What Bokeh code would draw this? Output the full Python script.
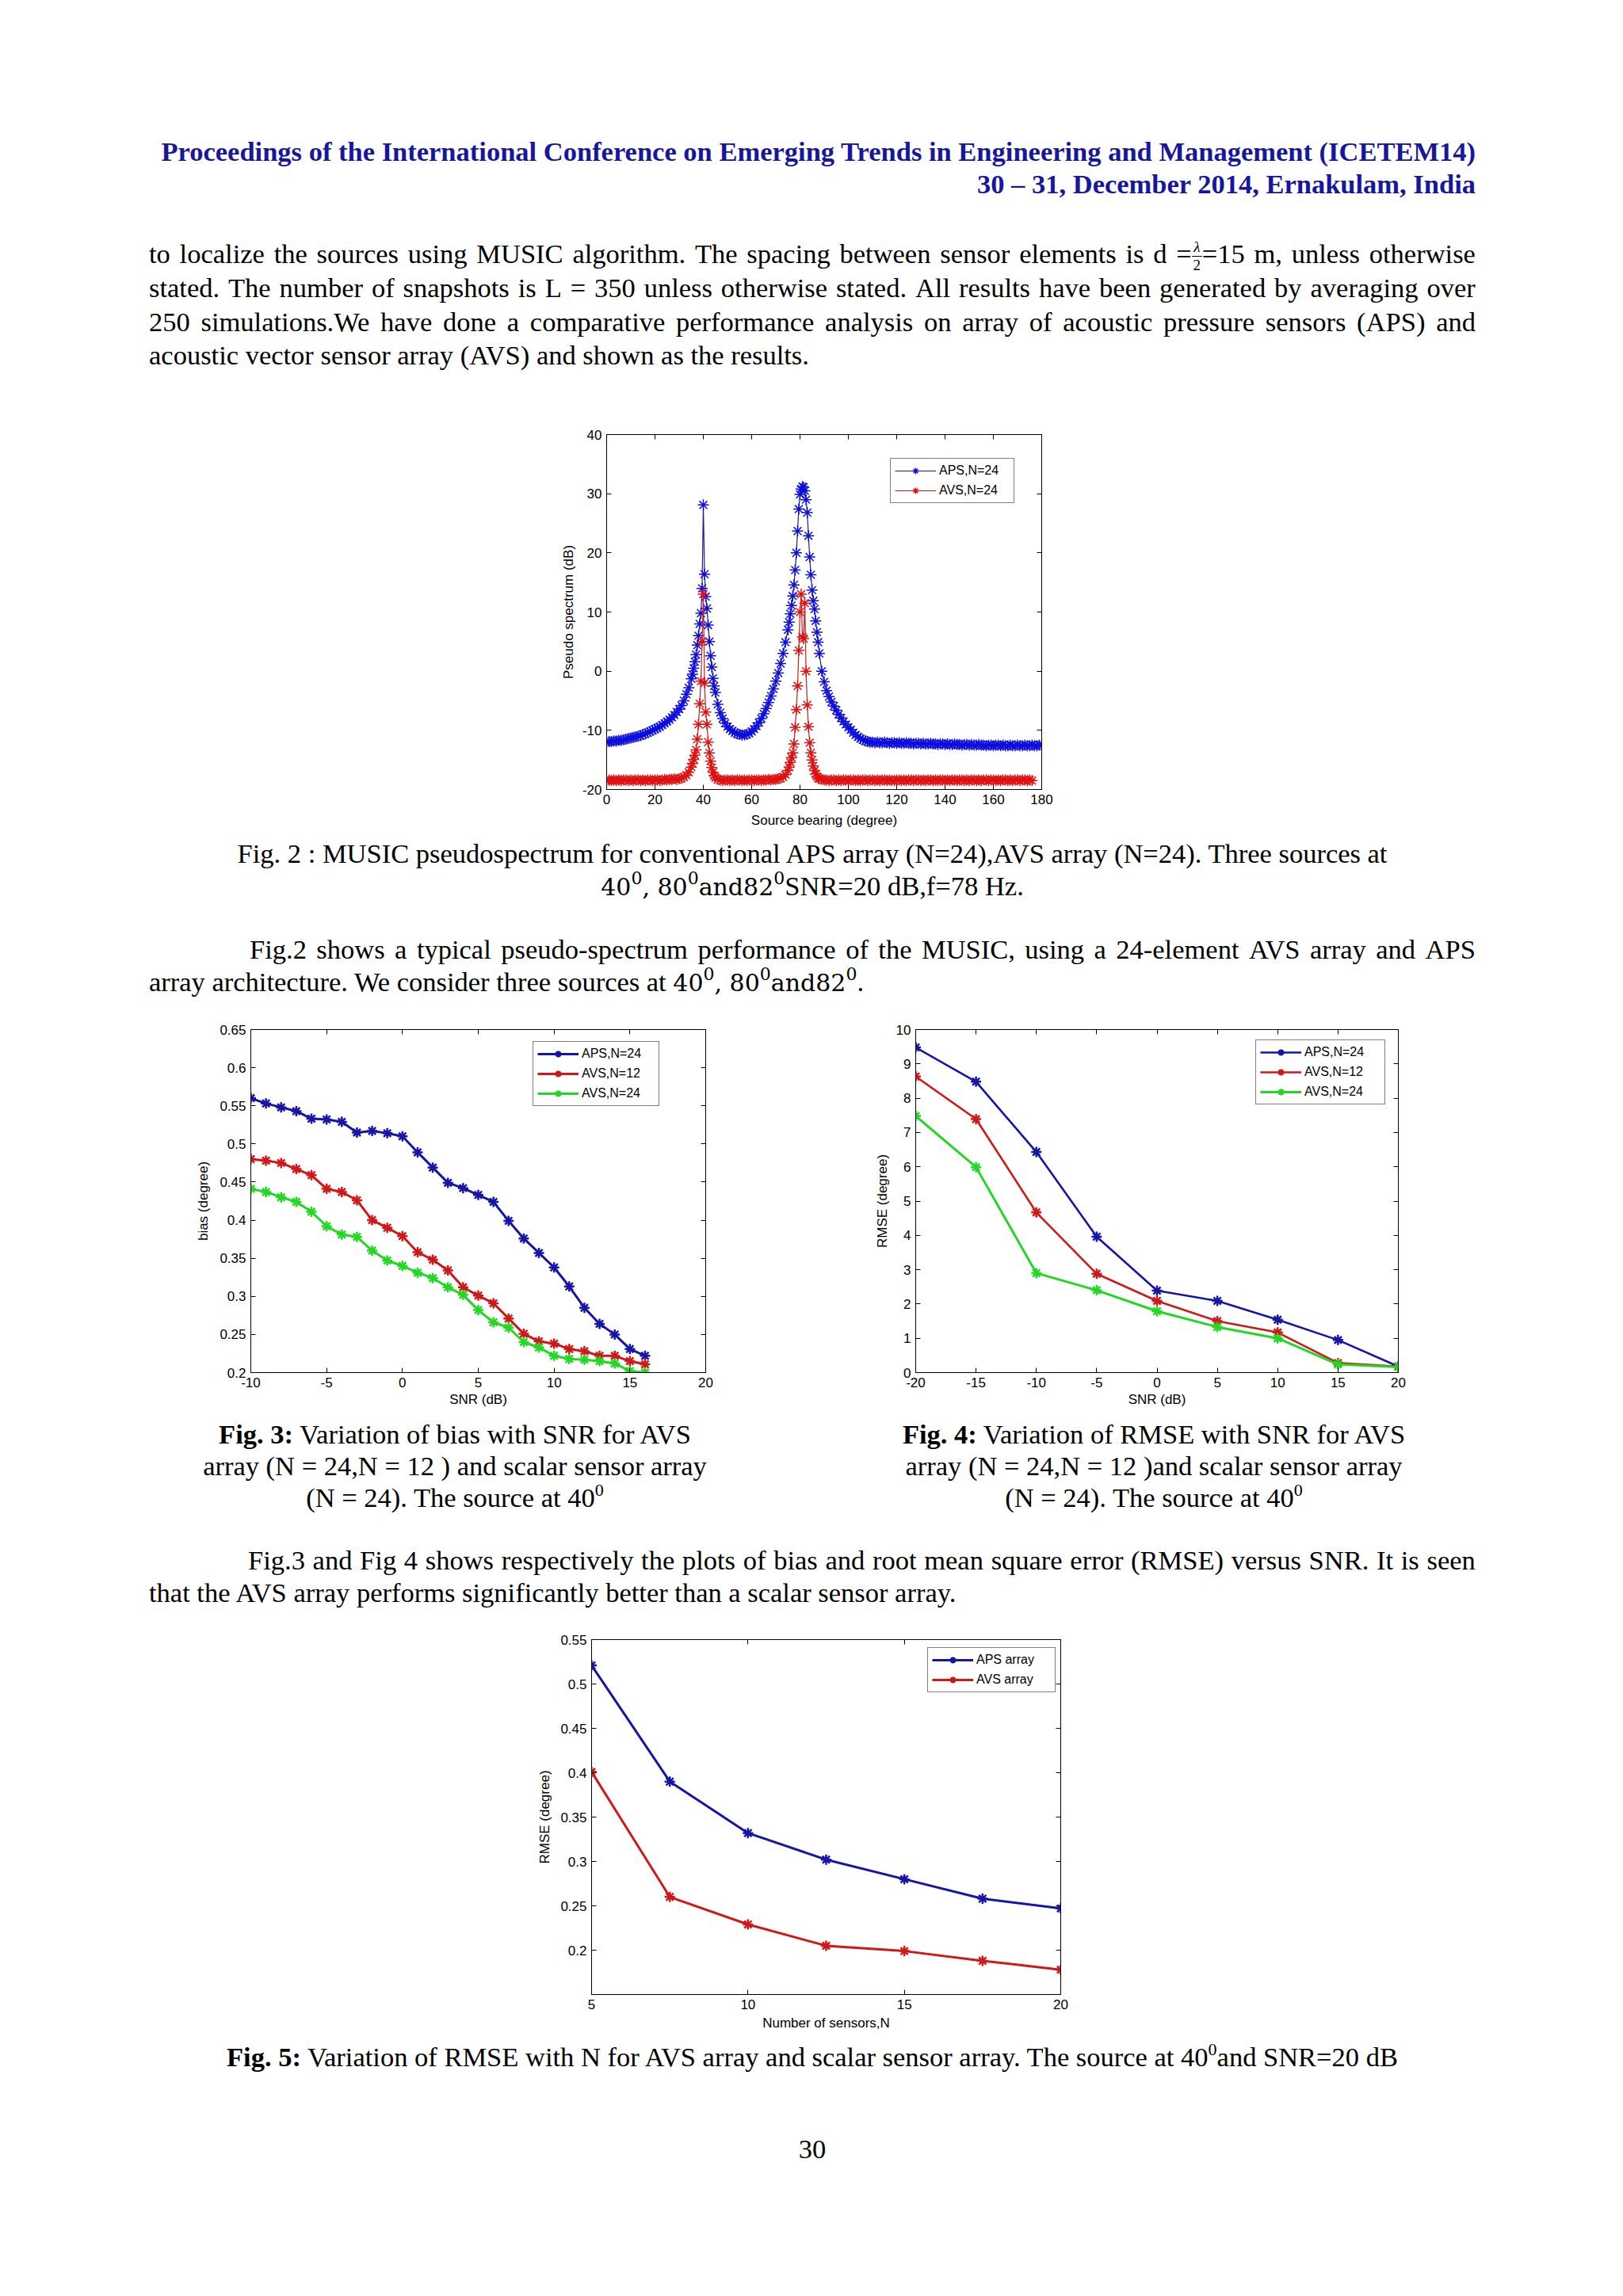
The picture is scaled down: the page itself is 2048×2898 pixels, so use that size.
from bokeh.plotting import figure
from bokeh.models import Div, Spacer, LinearAxis, FixedTicker, Legend, LegendItem, Range1d
from bokeh.layouts import column, row
from bokeh.embed import file_html
from bokeh.resources import INLINE

# ------------------------------------------------------------------ data
# Fig. 2 : MUSIC pseudo-spectrum
fig2_bearing = [0, 1, 2, 3, 4, 5, 6, 7, 8, 9, 10, 11, 12, 13, 14, 15, 16, 17, 18, 19,
                20, 21, 22, 23, 24, 25, 26, 27, 28, 29, 30, 31, 32, 33, 34, 35,
                35.5, 36, 36.5, 37, 37.5, 38, 38.5, 39, 39.5, 40, 40.5, 41, 41.5, 42, 42.5,
                43, 43.5, 44, 44.5,
                45, 46, 47, 48, 49, 50, 51, 52, 53, 54, 55, 56, 57, 58, 59, 60, 61, 62, 63,
                64, 65, 66, 67, 68, 69, 70, 71, 72, 73, 74, 75,
                75.5, 76, 76.5, 77, 77.5, 78, 78.5, 79, 79.5, 80, 80.5, 81, 81.5, 82, 82.5,
                83, 83.5, 84, 84.5, 85, 85.5, 86, 86.5, 87, 87.5,
                88, 89, 90, 91, 92, 93, 94, 95, 96, 97, 98, 99, 100, 101, 102, 103, 104, 105,
                106, 107, 108, 109, 110, 111, 112, 113, 114, 115, 116, 117, 118, 119, 120,
                121, 122, 123, 124, 125, 126, 127, 128, 129, 130, 131, 132, 133, 134, 135,
                136, 137, 138, 139, 140, 141, 142, 143, 144, 145, 146, 147, 148, 149, 150,
                151, 152, 153, 154, 155, 156, 157, 158, 159, 160, 161, 162, 163, 164, 165,
                166, 167, 168, 169, 170, 171, 172, 173, 174, 175, 176, 177, 178, 179, 180]
fig2_aps_db = [-12.0, -11.9, -11.9, -11.8, -11.8, -11.7, -11.7, -11.6, -11.5, -11.4, -11.3, -11.2,
               -11.1, -11.0, -10.9, -10.7, -10.6, -10.4, -10.2, -10.0, -9.8, -9.6, -9.4, -9.1,
               -8.8, -8.5, -8.2, -7.8, -7.4, -6.9, -6.4, -5.8, -5.0, -3.9, -2.8, -1.3,
               -0.5, 0.5, 1.6, 2.8, 4.4, 6.0, 8.0, 9.8, 14.0, 28.1, 16.4, 12.6, 10.6, 7.8, 5.0,
               2.6, 0.7, -1.2, -2.5,
               -3.6, -5.6, -7.0, -8.0, -8.8, -9.4, -9.8, -10.1, -10.4, -10.6, -10.7, -10.8, -10.8,
               -10.7, -10.5, -10.2, -9.8, -9.3, -8.7, -8.0, -7.2, -6.3, -5.3, -4.2, -3.0, -1.7,
               -0.3, 1.3, 3.0, 4.9, 7.0,
               8.3, 9.7, 11.1, 12.7, 14.6, 17.1, 20.0, 23.7, 27.4, 29.9, 30.8, 31.2, 31.1, 30.5,
               29.0, 26.8, 22.9, 19.3, 16.3, 13.7, 11.9, 10.5, 8.5, 6.6, 4.9,
               3.0, 0.0, -1.8, -3.3, -4.3, -5.2, -5.9, -6.6, -7.3, -7.9, -8.5, -9.0, -9.5, -9.9,
               -10.4, -10.8, -11.1, -11.4, -11.6, -11.8, -11.9, -12.0, -12.0, -12.1, -12.0, -12.1,
               -12.1, -12.0, -12.1, -12.2, -12.1, -12.1, -12.2, -12.1, -12.2, -12.2, -12.1, -12.2,
               -12.2, -12.3, -12.2, -12.2, -12.3, -12.2, -12.3, -12.3, -12.2, -12.3, -12.3, -12.4,
               -12.3, -12.3, -12.4, -12.3, -12.4, -12.4, -12.3, -12.4, -12.4, -12.5, -12.4, -12.4,
               -12.5, -12.4, -12.5, -12.5, -12.4, -12.5, -12.5, -12.6, -12.5, -12.5, -12.6, -12.5,
               -12.5, -12.6, -12.5, -12.6, -12.6, -12.5, -12.6, -12.6, -12.5, -12.6, -12.6, -12.5,
               -12.6, -12.6, -12.5, -12.6, -12.6, -12.5, -12.5]
fig2_avs_db = [-18.5, -18.4, -18.5, -18.4, -18.5, -18.4, -18.5, -18.4, -18.4, -18.5, -18.4, -18.5,
               -18.4, -18.4, -18.5, -18.4, -18.5, -18.4, -18.4, -18.5, -18.4, -18.4, -18.5, -18.4,
               -18.3, -18.4, -18.3, -18.3, -18.2, -18.3, -18.2, -18.1, -17.9, -17.6, -17.1, -16.2,
               -15.6, -14.9, -14.2, -13.3, -11.5, -9.0, -5.5, -1.7, 5.0, 13.0, -2.0, -6.9, -9.0,
               -12.0, -13.8, -15.2, -16.3, -17.1, -17.7,
               -18.0, -18.3, -18.4, -18.5, -18.4, -18.4, -18.5, -18.4, -18.5, -18.4, -18.4, -18.5,
               -18.4, -18.5, -18.4, -18.4, -18.5, -18.4, -18.4, -18.5, -18.4, -18.4, -18.3, -18.4,
               -18.3, -18.3, -18.2, -18.1, -17.9, -17.5, -16.8,
               -16.2, -15.4, -14.6, -13.8, -12.3, -9.5, -6.5, -2.5, 3.5, 10.0, 13.0, 5.8, 5.5, 11.5,
               0.0, -5.7, -9.4, -12.1, -13.8, -15.0, -16.0, -16.8, -17.4, -17.8, -18.1,
               -18.2, -18.3, -18.4, -18.4, -18.5, -18.4, -18.4, -18.5, -18.4, -18.5, -18.4, -18.4,
               -18.5, -18.4, -18.4, -18.5, -18.4, -18.5, -18.4, -18.4, -18.5, -18.4, -18.4, -18.5,
               -18.4, -18.5, -18.4, -18.4, -18.5, -18.4, -18.5, -18.5, -18.4, -18.4, -18.5, -18.4,
               -18.5, -18.4, -18.4, -18.5, -18.4, -18.4, -18.5, -18.4, -18.5, -18.4, -18.4, -18.5,
               -18.4, -18.5, -18.4, -18.4, -18.5, -18.4, -18.5, -18.4, -18.4, -18.5, -18.4, -18.4,
               -18.5, -18.4, -18.5, -18.4, -18.4, -18.5, -18.4, -18.5, -18.4, -18.4, -18.5, -18.4,
               -18.4, -18.5, -18.4, -18.5, -18.4, -18.4, -18.5, -18.4, -18.5, -18.4, -18.4, -18.5,
               -18.4, -18.4, -18.5, -18.4, -18.5]
fig2_xticks = [0, 20, 40, 60, 80, 100, 120, 140, 160, 180]
fig2_xlabels = ["0", "20", "40", "60", "80", "100", "120", "140", "160", "180"]
fig2_yticks = [-20, -10, 0, 10, 20, 30, 40]
fig2_ylabels = ["-20", "-10", "0", "10", "20", "30", "40"]

# Fig. 3 : bias vs SNR
fig3_snr = [-10, -9, -8, -7, -6, -5, -4, -3, -2, -1, 0, 1, 2, 3, 4, 5, 6, 7, 8, 9, 10,
            11, 12, 13, 14, 15, 16]
fig3_aps_n24 = [0.560, 0.553, 0.548, 0.543, 0.533, 0.532, 0.529, 0.515, 0.517, 0.514, 0.510,
                0.489, 0.469, 0.449, 0.442, 0.433, 0.424, 0.399, 0.376, 0.357, 0.338, 0.313,
                0.285, 0.264, 0.250, 0.231, 0.222]
fig3_avs_n12 = [0.480, 0.478, 0.475, 0.467, 0.459, 0.441, 0.437, 0.426, 0.400, 0.390, 0.379,
                0.358, 0.348, 0.334, 0.312, 0.301, 0.291, 0.271, 0.251, 0.241, 0.238, 0.231,
                0.228, 0.222, 0.222, 0.215, 0.211]
fig3_avs_n24 = [0.441, 0.437, 0.430, 0.424, 0.411, 0.392, 0.381, 0.378, 0.360, 0.347, 0.340,
                0.331, 0.324, 0.312, 0.302, 0.282, 0.266, 0.259, 0.240, 0.233, 0.222, 0.218,
                0.217, 0.215, 0.212, 0.202, 0.200]
fig3_xticks = [-10, -5, 0, 5, 10, 15, 20]
fig3_xlabels = ["-10", "-5", "0", "5", "10", "15", "20"]
fig3_yticks = [0.2, 0.25, 0.3, 0.35, 0.4, 0.45, 0.5, 0.55, 0.6, 0.65]
fig3_ylabels = ["0.2", "0.25", "0.3", "0.35", "0.4", "0.45", "0.5", "0.55", "0.6", "0.65"]

# Fig. 4 : RMSE vs SNR
fig4_snr = [-20, -15, -10, -5, 0, 5, 10, 15, 20]
fig4_aps_n24 = [9.48, 8.48, 6.43, 3.96, 2.39, 2.09, 1.54, 0.95, 0.18]
fig4_avs_n12 = [8.63, 7.39, 4.67, 2.88, 2.09, 1.50, 1.17, 0.28, 0.18]
fig4_avs_n24 = [7.48, 5.99, 2.90, 2.40, 1.79, 1.33, 1.00, 0.24, 0.16]
fig4_xticks = [-20, -15, -10, -5, 0, 5, 10, 15, 20]
fig4_xlabels = ["-20", "-15", "-10", "-5", "0", "5", "10", "15", "20"]
fig4_yticks = [0, 1, 2, 3, 4, 5, 6, 7, 8, 9, 10]
fig4_ylabels = ["0", "1", "2", "3", "4", "5", "6", "7", "8", "9", "10"]

# Fig. 5 : RMSE vs number of sensors
fig5_sensors = [5, 7.5, 10, 12.5, 15, 17.5, 20]
fig5_aps = [0.521, 0.390, 0.332, 0.302, 0.280, 0.258, 0.247]
fig5_avs = [0.401, 0.260, 0.229, 0.205, 0.199, 0.188, 0.178]
fig5_xticks = [5, 10, 15, 20]
fig5_xlabels = ["5", "10", "15", "20"]
fig5_yticks = [0.2, 0.25, 0.3, 0.35, 0.4, 0.45, 0.5, 0.55]
fig5_ylabels = ["0.2", "0.25", "0.3", "0.35", "0.4", "0.45", "0.5", "0.55"]

# ------------------------------------------------------------------ styles
SANS = "Liberation Sans"
SERIF = "'Liberation Serif', 'Times New Roman', serif"
FS = 34.5
TICK_FS = "17px"
BLUE_L, BLUE_M = "#1a1a9c", "#0d0de0"
RED_L, RED_M = "#c81e1e", "#e01010"
BLUE3, RED3, GREEN3 = "#1515a8", "#d01818", "#22d822"


def style_axis(ax, labels=True, stand=6):
    ax.axis_line_color = "black"
    ax.axis_line_width = 1
    ax.major_tick_in = 6
    ax.major_tick_out = 0
    ax.major_tick_line_color = "black"
    ax.minor_tick_line_color = None
    ax.major_label_text_font = SANS
    ax.axis_label_text_font = SANS
    ax.axis_label_text_font_size = "17px"
    ax.axis_label_text_font_style = "normal"
    ax.axis_label_text_color = "black"
    if labels:
        ax.major_label_text_color = "black"
        ax.major_label_text_font_size = TICK_FS
        ax.major_label_standoff = stand
    else:
        ax.major_label_text_color = None
        ax.major_label_text_alpha = 0
        ax.major_label_text_font_size = "1px"
        ax.major_label_standoff = 0


def make_chart(fw, fh, bl, br, bt, bb, xr, yr, xt, xl, yt, yl, xlab, ylab, xls, yls):
    p = figure(width=bl + fw + br, height=bt + fh + bb,
               x_range=Range1d(*xr), y_range=Range1d(*yr),
               output_backend="svg", toolbar_location=None,
               min_border_left=bl, min_border_right=br,
               min_border_top=bt, min_border_bottom=bb)
    p.background_fill_color = "white"
    p.border_fill_color = "white"
    p.outline_line_color = "black"
    p.outline_line_width = 1
    p.xgrid.visible = False
    p.ygrid.visible = False
    p.xaxis.ticker = FixedTicker(ticks=xt)
    p.yaxis.ticker = FixedTicker(ticks=yt)
    p.xaxis.major_label_overrides = dict(zip(xt, xl))
    p.yaxis.major_label_overrides = dict(zip(yt, yl))
    p.xaxis.axis_label = xlab
    p.yaxis.axis_label = ylab
    for ax in p.xaxis:
        style_axis(ax)
        ax.axis_label_standoff = xls
    for ax in p.yaxis:
        style_axis(ax)
        ax.axis_label_standoff = yls
    top = LinearAxis(ticker=FixedTicker(ticks=xt))
    style_axis(top, labels=False)
    right = LinearAxis(ticker=FixedTicker(ticks=yt))
    style_axis(right, labels=False)
    p.add_layout(top, "above")
    p.add_layout(right, "right")
    return p


def add_legend(p, items, loc, label_width):
    lg = Legend(items=[LegendItem(label=t, renderers=r) for t, r in items],
                location=loc, orientation="vertical")
    lg.border_line_color = "black"
    lg.border_line_width = 1
    lg.background_fill_color = "white"
    lg.background_fill_alpha = 1.0
    lg.label_text_font = SANS
    lg.label_text_font_size = "16px"
    lg.label_text_color = "black"
    lg.glyph_width = 52
    lg.glyph_height = 20
    lg.label_height = 20
    lg.label_width = label_width
    lg.label_standoff = 4
    lg.spacing = 5
    lg.padding = 5
    lg.margin = 0
    p.add_layout(lg)


def series(p, x, y, lc, mc, lw, ms, mlw):
    n = min(len(x), len(y))
    l = p.line(x[:n], y[:n], line_color=lc, line_width=lw)
    s = p.scatter(x[:n], y[:n], marker="asterisk", size=ms, line_color=mc, line_width=mlw)
    return [l, s]


# ------------------------------------------------------------------ charts
# Fig 2: frame page x 765..1314, y 548..996
p2 = make_chart(549, 448, 85, 30, 20, 58, (0, 180), (-20, 40),
                fig2_xticks, fig2_xlabels, fig2_yticks, fig2_ylabels,
                "Source bearing (degree)", "Pseudo spectrum (dB)", 8, 5)
r_aps2 = series(p2, fig2_bearing, fig2_aps_db, BLUE_L, BLUE_M, 1.2, 14, 1.5)
r_avs2 = series(p2, fig2_bearing, fig2_avs_db, RED_L, RED_M, 1.2, 14, 1.5)
add_legend(p2, [("APS,N=24", r_aps2), ("AVS,N=24", r_avs2)], (358, 361), 89)

# Fig 3: frame x 316..890, y 1299..1732
p3 = make_chart(574, 433, 95, 25, 15, 55, (-10, 20), (0.2, 0.65),
                fig3_xticks, fig3_xlabels, fig3_yticks, fig3_ylabels,
                "SNR (dB)", "bias (degree)", 3, 8)
r31 = series(p3, fig3_snr, fig3_aps_n24, BLUE3, BLUE3, 3, 13, 2.5)
r32 = series(p3, fig3_snr, fig3_avs_n12, RED3, RED3, 3, 13, 2.5)
r33 = series(p3, fig3_snr, fig3_avs_n24, GREEN3, GREEN3, 3, 13, 2.5)
add_legend(p3, [("APS,N=24", r31), ("AVS,N=12", r32), ("AVS,N=24", r33)], (356, 336), 92)

# Fig 4: frame x 1155..1764, y 1299..1732
p4 = make_chart(609, 433, 85, 25, 15, 55, (-20, 20), (0, 10),
                fig4_xticks, fig4_xlabels, fig4_yticks, fig4_ylabels,
                "SNR (dB)", "RMSE (degree)", 3, 5)
r41 = series(p4, fig4_snr, fig4_aps_n24, BLUE3, BLUE3, 2.6, 13, 2.5)
r42 = series(p4, fig4_snr, fig4_avs_n12, RED3, RED3, 2.6, 13, 2.5)
r43 = series(p4, fig4_snr, fig4_avs_n24, GREEN3, GREEN3, 3, 13, 2.5)
add_legend(p4, [("APS,N=24", r41), ("AVS,N=12", r42), ("AVS,N=24", r43)], (429, 338), 96)

# Fig 5: frame x 746..1338, y 2069..2517
p5 = make_chart(592, 448, 90, 25, 15, 56, (5, 20), (0.15, 0.55),
                fig5_xticks, fig5_xlabels, fig5_yticks, fig5_ylabels,
                "Number of sensors,N", "RMSE (degree)", 5, 7)
r51 = series(p5, fig5_sensors, fig5_aps, BLUE3, BLUE3, 3, 13, 2.5)
r52 = series(p5, fig5_sensors, fig5_avs, RED3, RED3, 3, 13, 2.5)
add_legend(p5, [("APS array", r51), ("AVS array", r52)], (424, 381), 94)

# ------------------------------------------------------------------ text
SUP = '<span style="font-size:22px;vertical-align:14px;line-height:0">0</span>'
FRAC = ('<span style="display:inline-block;vertical-align:middle;text-align:center;'
        'width:13px;position:relative;top:-1px">'
        '<span style="display:block;font-size:19px;line-height:22px;font-style:italic;'
        'border-bottom:1px solid #000">&#955;</span>'
        '<span style="display:block;font-size:19px;line-height:22px">2</span></span>')
MATH_ON = "<span style=\"font-family:'DejaVu Serif',serif;font-size:30px\">"
MATH_OFF = "</span>"


def sub(t):
    return (t.replace("^0", SUP).replace("{FRAC}", FRAC)
             .replace("{M}", MATH_ON).replace("{/M}", MATH_OFF))


def base_style(lh, color="#000", weight="normal"):
    return (f"height:{lh}px;line-height:{lh}px;white-space:nowrap;font-family:{SERIF};"
            f"font-size:{FS}px;color:{color};font-weight:{weight};")


def jline(text, lh, indent=0):
    spans = "".join(f"<span>{sub(t)}</span>" for t in text.split(" "))
    return (f'<div style="display:flex;justify-content:space-between;padding-left:{indent}px;'
            f'{base_style(lh)}">{spans}</div>')


def pline(text, lh, align="left", color="#000", weight="normal"):
    return f'<div style="text-align:{align};{base_style(lh, color, weight)}">{sub(text)}</div>'


def tdiv(lines, width, height):
    html = (f'<div style="width:{width}px;height:{height}px;box-sizing:border-box">'
            + "".join(lines) + "</div>")
    return Div(text=html, width=width, height=height, margin=(0, 0, 0, 0),
               styles={"overflow": "visible"})


TXT_X, TXT_W = 188, 1674
HCOL = "#17179e"

header = tdiv([pline("Proceedings of the International Conference on Emerging Trends in "
                     "Engineering and Management (ICETEM14)", 41, "right", HCOL, "bold"),
               pline("30 &#8211; 31, December 2014, Ernakulam, India", 41, "right", HCOL, "bold")],
              TXT_W, 82)

LB = 42.8
body = tdiv([jline("to localize the sources using MUSIC algorithm. The spacing between sensor "
                   "elements is d ={FRAC}=15 m, unless otherwise", LB),
             jline("stated. The number of snapshots is L = 350 unless otherwise stated. All "
                   "results have been generated by averaging over", LB),
             jline("250 simulations.We have done a comparative performance analysis on array "
                   "of acoustic pressure sensors (APS) and", LB),
             pline("acoustic vector sensor array (AVS) and shown as the results.", LB)],
            TXT_W, 172)

cap2 = tdiv([pline("Fig. 2 : MUSIC pseudospectrum for conventional APS array (N=24),AVS array "
                   "(N=24). Three sources at", 41, "center"),
             pline("{M}40^0, 80^0and82^0{/M}SNR=20 dB,f=78 Hz.", 41, "center")], TXT_W, 82)

para2 = tdiv([jline("Fig.2 shows a typical pseudo-spectrum performance of the MUSIC, using a "
                    "24-element AVS array and APS", 41, 127),
              pline("array architecture. We consider three sources at "
                    "{M}40^0, 80^0and82^0{/M}.", 41)],
             TXT_W, 82)

cap3 = tdiv([pline("<b>Fig. 3:</b> Variation of bias with SNR for AVS", 40, "center"),
             pline("array (N = 24,N = 12 ) and scalar sensor array", 40, "center"),
             pline("(N = 24). The source at 40^0", 40, "center")], 700, 120)
cap4 = tdiv([pline("<b>Fig. 4:</b> Variation of RMSE with SNR for AVS", 40, "center"),
             pline("array (N = 24,N = 12 )and scalar sensor array", 40, "center"),
             pline("(N = 24). The source at 40^0", 40, "center")], 700, 120)

para3 = tdiv([jline("Fig.3 and Fig 4 shows respectively the plots of bias and root mean square "
                    "error (RMSE) versus SNR. It is seen", 41, 125),
              pline("that the AVS array performs significantly better than a scalar sensor "
                    "array.", 41)], TXT_W, 82)

cap5 = tdiv([pline("<b>Fig. 5:</b> Variation of RMSE with N for AVS array and scalar sensor "
                   "array. The source at 40^0and SNR=20 dB", 41, "center")], TXT_W, 41)

pagenum = tdiv([pline("30", 41, "center")], TXT_W, 41)

# ------------------------------------------------------------------ page assembly
# (page coordinates; the Bokeh page template has no body margin)
blocks = [
    (171, 82, [(TXT_X, header)]),
    (299, 172, [(TXT_X, body)]),
    (528, p2.height, [(680, p2)]),
    (1057, 82, [(TXT_X, cap2)]),
    (1178, 82, [(TXT_X, para2)]),
    (1284, p3.height, [(221, p3), (1070, p4)]),
    (1790, 120, [(224, cap3), (1106, cap4)]),
    (1949, 82, [(TXT_X, para3)]),
    (2054, p5.height, [(656, p5)]),
    (2576, 41, [(TXT_X, cap5)]),
    (2692, 41, [(TXT_X, pagenum)]),
]

children = []
cursor = 0
for top, h, items in blocks:
    gap = top - cursor
    if gap > 0:
        children.append(Spacer(width=1, height=gap))
    rc = []
    xcur = 0
    for x, el in items:
        dx = x - xcur
        if dx > 0:
            rc.append(Spacer(width=dx, height=1))
        rc.append(el)
        xcur = x + el.width
    children.append(row(*rc))
    cursor = top + h

page = column(*children)
open("out.html", "w").write(file_html(page, INLINE, title="ICETEM14 page 30"))
